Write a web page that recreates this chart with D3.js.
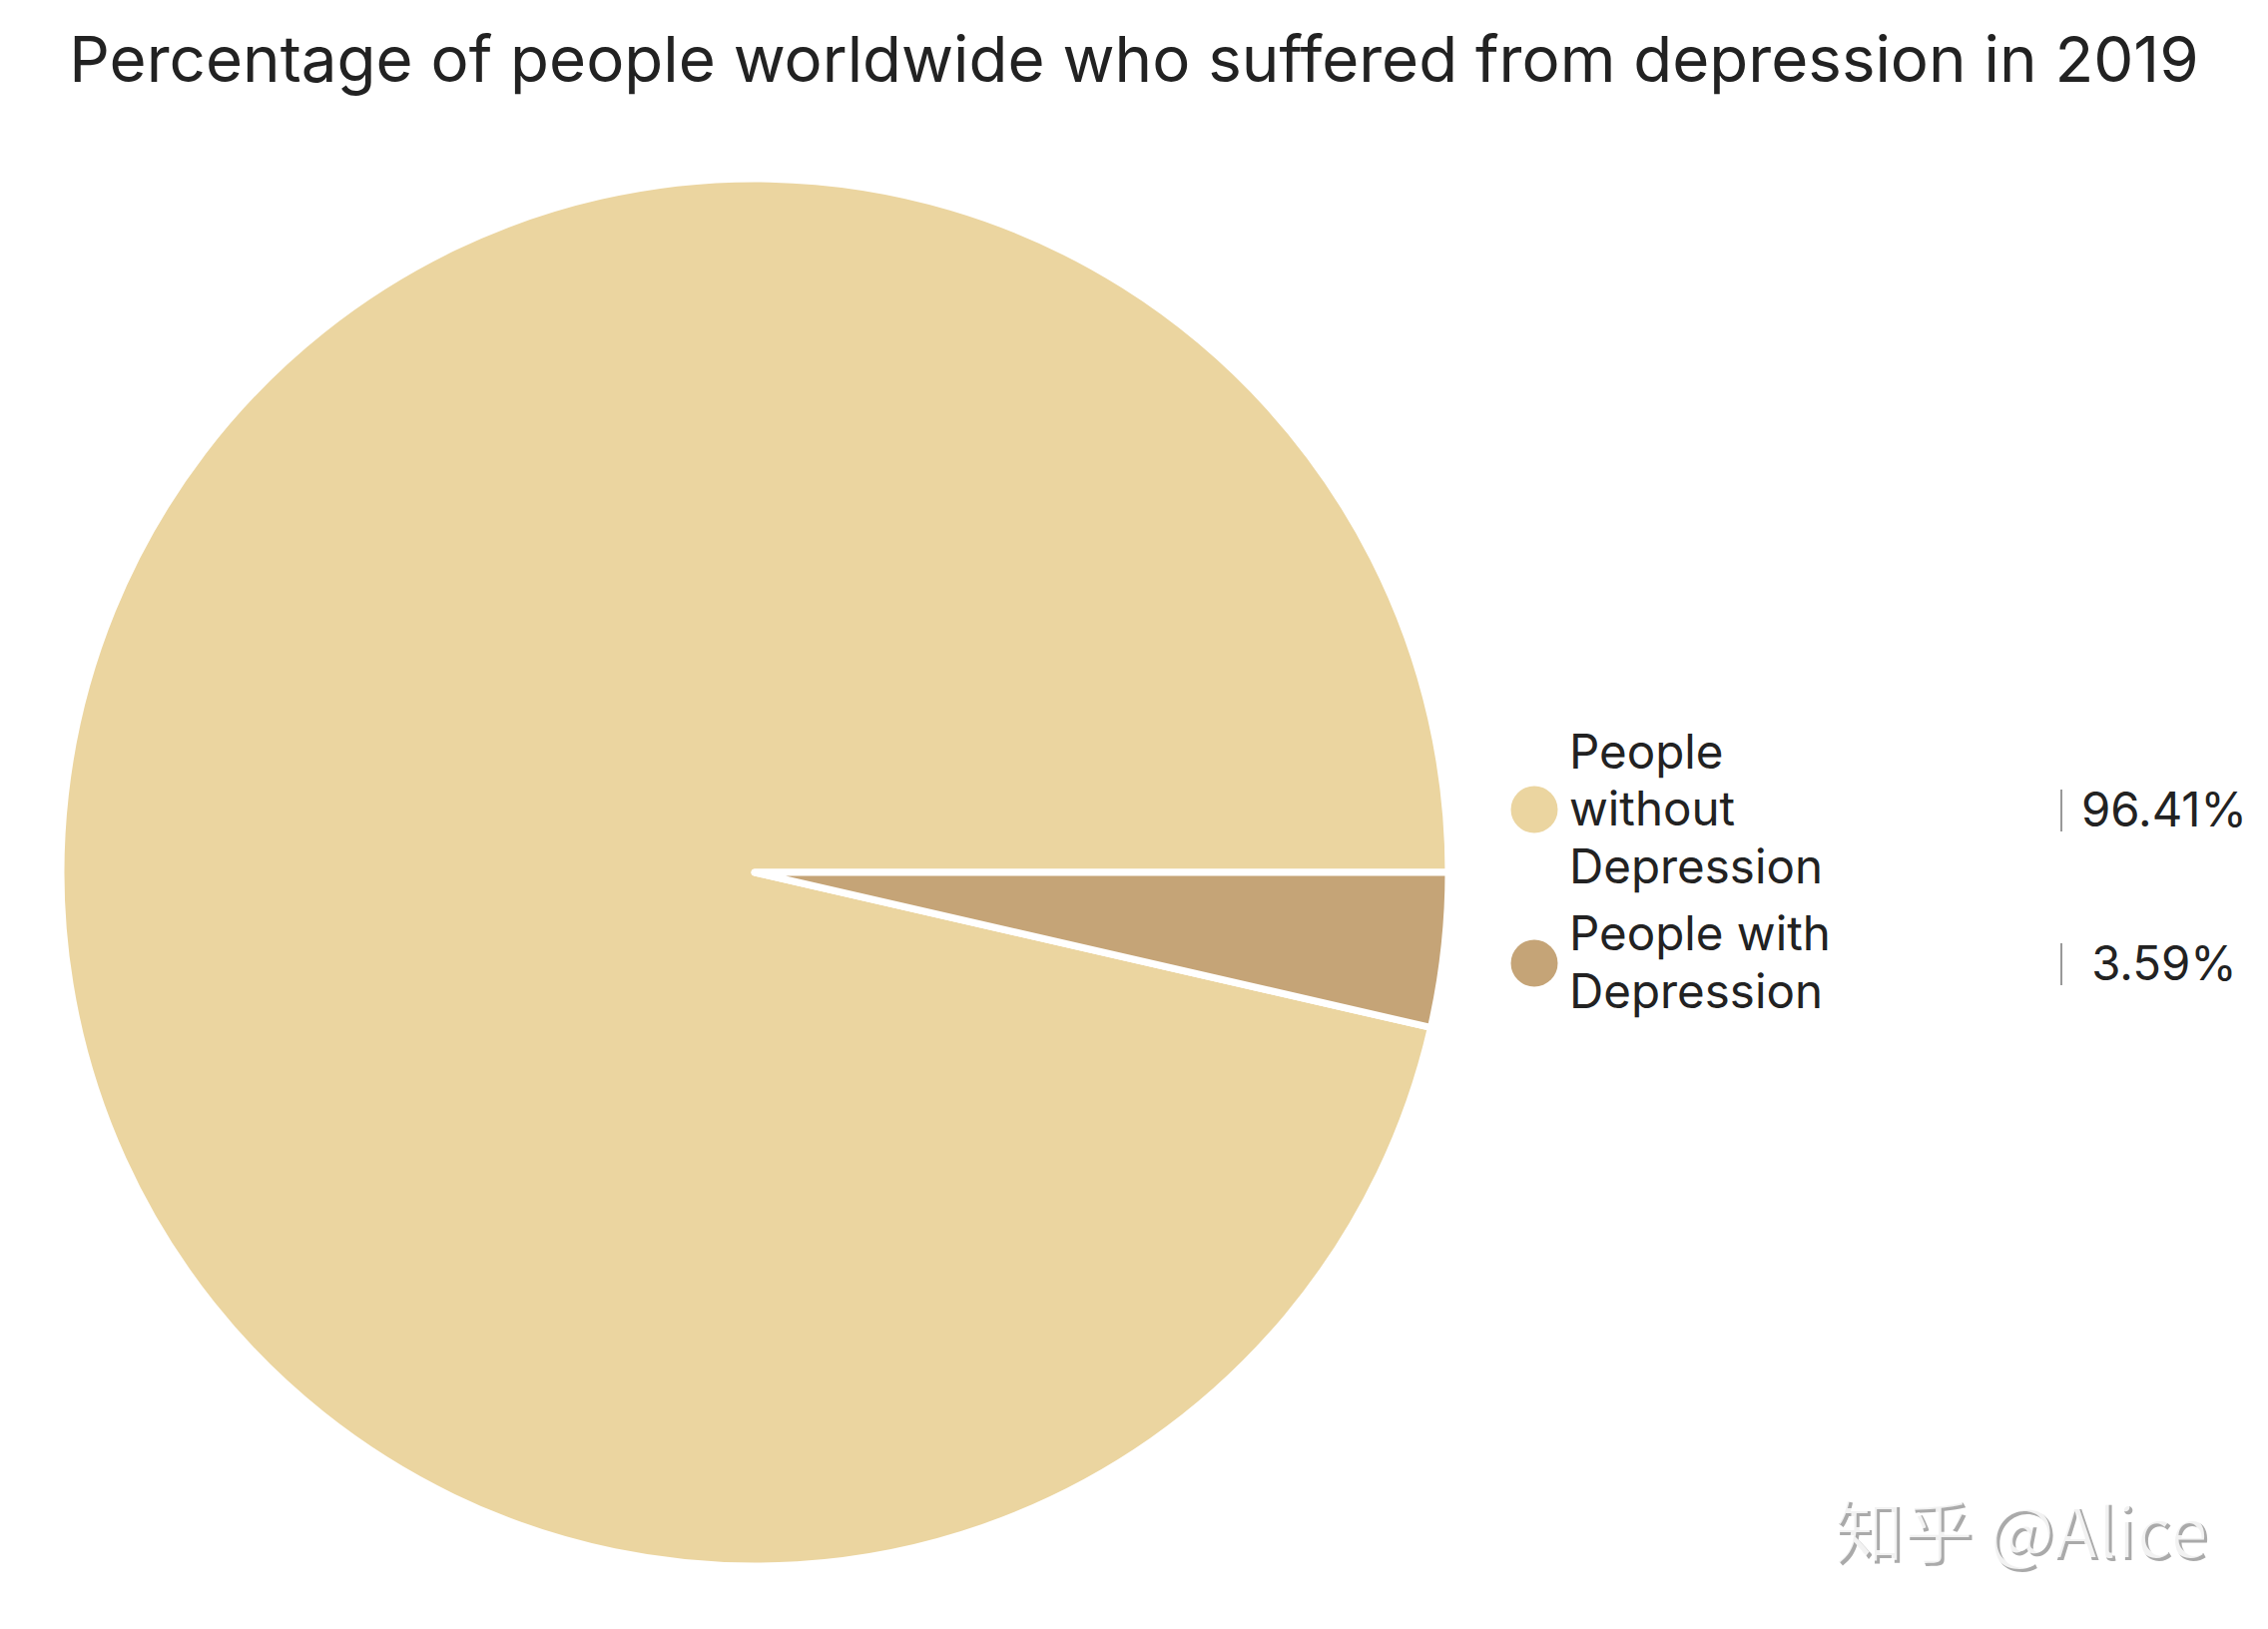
<!DOCTYPE html>
<html>
<head>
<meta charset="utf-8">
<script src="https://cdn.jsdelivr.net/npm/d3@7"></script>
<style>
  body { margin: 0; background: #fff; }
  svg { display: block; }
</style>
</head>
<body>
<div id="chart"></div>
<script>
'use strict'

// data
let titleText = "Percentage of people worldwide who suffered from depression in 2019"
let labels = [["People", "without", "Depression"], ["People with", "Depression"]]
let shares = [96.41, 3.59]
let valueLabels = ["96.41%", "3.59%"]
let colors = ["#EBD5A0", "#C5A477"]

let width = 2272
let height = 1632
let cx = 756, cy = 874
let radius = 695
let font = "Inter, 'Noto Sans', sans-serif"

let svg = d3.select("#chart").append("svg")
  .attr("width", width)
  .attr("height", height)

// fit a text node to a target width by changing its font size
function fitWidth(sel, size, target) {
  sel.style("font-size", size + "px")
  let w = sel.node().getComputedTextLength()
  let s = size * target / w
  sel.style("font-size", s + "px")
  return s
}

// title
let title = svg.append("text")
  .attr("x", width / 2)
  .attr("y", 82)
  .attr("text-anchor", "middle")
  .style("font-family", font)
  .style("fill", "#222")
  .text(titleText)
fitWidth(title, 58, 2134)

// pie, the small slice starts at 3 o'clock and runs clockwise
let pie = d3.pie()
  .sort(null)
  .value(d => d)
  .startAngle(Math.PI / 2 + 2 * Math.PI * shares[1] / 100)
  .endAngle(Math.PI / 2 + 2 * Math.PI * (1 + shares[1] / 100))

let arc = d3.arc()
  .innerRadius(0)
  .outerRadius(radius)

svg.append("g")
  .attr("transform", "translate(" + cx + "," + cy + ")")
  .selectAll("path")
  .data(pie(shares))
  .enter()
  .append("path")
  .attr("d", arc)
  .style("fill", (d, i) => colors[i])
  .style("stroke", "#fff")
  .style("stroke-width", 7)
  .style("stroke-linejoin", "round")

// legend sizes measured on one word
let probe = svg.append("text").style("font-family", font).text("Depression")
let labelSize = fitWidth(probe, 40, 254)
probe.text("96.41%")
let valueSize = fitWidth(probe, 44, 166)
probe.remove()

let legendY = d3.scaleOrdinal().domain([0, 1]).range([811, 965])
let lineH = 57.5

let legend = svg.selectAll(".legend")
  .data(labels)
  .enter()
  .append("g")
  .attr("class", "legend")
  .attr("transform", (d, i) => "translate(0," + legendY(i) + ")")

legend.append("circle")
  .attr("cx", 1537)
  .attr("cy", 0)
  .attr("r", 23.5)
  .style("fill", (d, i) => colors[i])

legend.append("text")
  .style("font-family", font)
  .style("font-size", labelSize + "px")
  .style("fill", "#222")
  .each(function (d) {
    let t = d3.select(this)
    let n = d.length
    d.forEach((line, k) => {
      t.append("tspan")
        .attr("x", 1572)
        .attr("y", (k - (n - 1) / 2) * lineH + 16)
        .text(line)
    })
  })

legend.append("line")
  .attr("x1", 2065).attr("x2", 2065)
  .attr("y1", -20).attr("y2", 22)
  .style("stroke", "#555")
  .style("stroke-width", 1.2)

legend.append("text")
  .attr("x", 2168)
  .attr("y", 17)
  .attr("text-anchor", "middle")
  .style("font-family", font)
  .style("font-size", valueSize + "px")
  .style("fill", "#222")
  .text((d, i) => valueLabels[i])

// watermark
let wm = svg.append("g")
  .style("font-family", "'Noto Sans CJK SC', sans-serif")
let wmA = wm.append("text")
  .attr("x", 1840).attr("y", 1563)
  .style("fill", "#aaa")
  .text("知乎 @Alice")
let wmSize = fitWidth(wmA, 62, 374)
wm.append("text")
  .attr("x", 1837).attr("y", 1560)
  .style("fill", "#fff")
  .style("opacity", 0.85)
  .style("font-size", wmSize + "px")
  .text("知乎 @Alice")
</script>
</body>
</html>
